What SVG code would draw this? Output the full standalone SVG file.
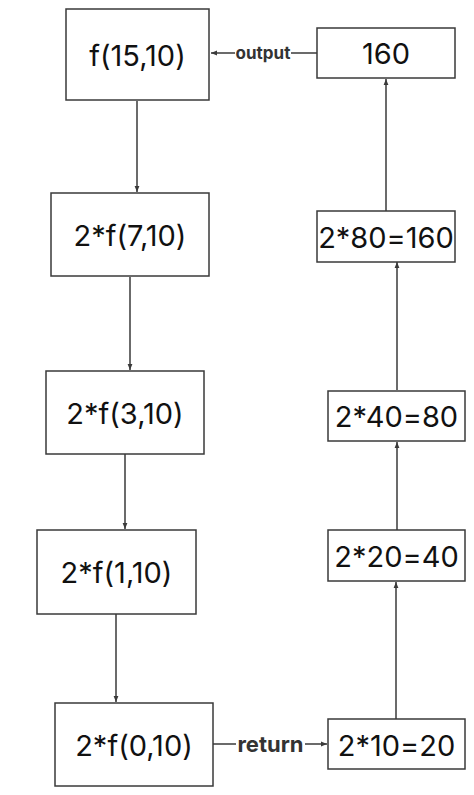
<svg xmlns="http://www.w3.org/2000/svg" width="474" height="795" viewBox="0 0 474 795">
<style>
.box{fill:#fff;stroke:#3a3a3a;stroke-width:1.5}
.t{font-family:Inter,"Noto Sans","Liberation Sans",sans-serif;font-size:29px;fill:#111;text-anchor:middle;dominant-baseline:central;font-feature-settings:"calt" 0}
.c{stroke:#3a3a3a;stroke-width:1.5;fill:none;marker-end:url(#ah)}
.lbl{font-family:Inter,"Liberation Sans",sans-serif;font-weight:bold;fill:#333;text-anchor:middle;dominant-baseline:central}
</style>
<defs>
<marker id="ah" viewBox="0 0 10 10" refX="10" refY="5" markerWidth="6" markerHeight="6" markerUnits="userSpaceOnUse" orient="auto">
<path d="M0,1 L10,5 L0,9 z" fill="#3a3a3a"/>
</marker>
</defs>
<rect width="474" height="795" fill="#fff"/>
<g id="connectors">
<path class="c" d="M137,101 V192"/>
<path class="c" d="M130,277 V370"/>
<path class="c" d="M125,454 V529"/>
<path class="c" d="M116,614 V702"/>
<path class="c" d="M317,53 H211"/>
<rect x="235" y="44" width="56" height="18" fill="#fff"/>
<text class="lbl" x="263" y="53" font-size="17">output</text>
<path class="c" d="M213,744 H327"/>
<rect x="236" y="734" width="69" height="20" fill="#fff"/>
<text class="lbl" x="270.5" y="744" font-size="22">return</text>
<path class="c" d="M396,719 V582"/>
<path class="c" d="M397,530 V442"/>
<path class="c" d="M397,390 V262"/>
<path class="c" d="M386,211 V79"/>
</g>
<g id="n1"><rect class="box" x="66" y="9" width="143" height="91"/><text class="t" x="137.5" y="55">f(15,10)</text></g>
<g id="n2"><rect class="box" x="51" y="193" width="158" height="83"/><text class="t" x="130" y="235">2*f(7,10)</text></g>
<g id="n3"><rect class="box" x="46" y="371" width="158" height="83"/><text class="t" x="125" y="413">2*f(3,10)</text></g>
<g id="n4"><rect class="box" x="37" y="530" width="159" height="84"/><text class="t" x="116.5" y="572">2*f(1,10)</text></g>
<g id="n5"><rect class="box" x="55" y="703" width="158" height="83"/><text class="t" x="134" y="745">2*f(0,10)</text></g>
<g id="n6"><rect class="box" x="328" y="719" width="137" height="50"/><text class="t" x="396.5" y="745">2*10=20</text></g>
<g id="n7"><rect class="box" x="328" y="530" width="137" height="51"/><text class="t" x="396.5" y="556">2*20=40</text></g>
<g id="n8"><rect class="box" x="328" y="391" width="137" height="50"/><text class="t" x="396.5" y="416">2*40=80</text></g>
<g id="n9"><rect class="box" x="317" y="211" width="138" height="51"/><text class="t" x="386" y="237">2*80=160</text></g>
<g id="n10"><rect class="box" x="317" y="28" width="138" height="50"/><text class="t" x="386" y="53">160</text></g>
</svg>
